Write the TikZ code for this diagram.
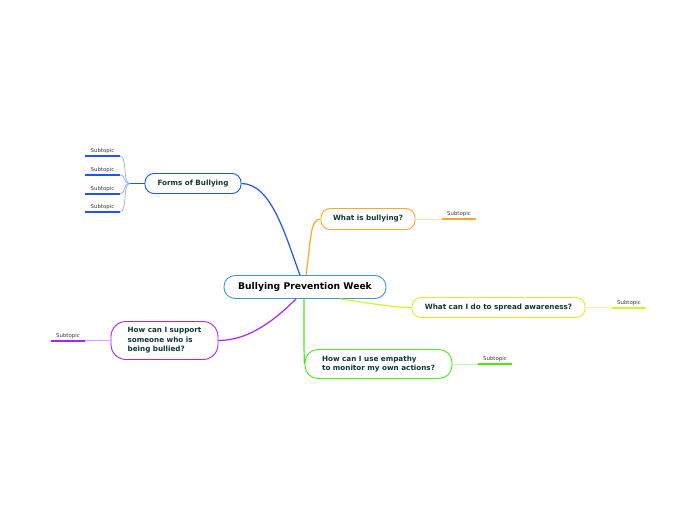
\documentclass[tikz,border=0pt]{standalone}
\usepackage{fontspec}
\setmainfont{DejaVu Sans}
\usepackage{xcolor}
\usepackage{tikz}
\usetikzlibrary{calc}
\definecolor{mainblue}{RGB}{60, 150, 215}
\definecolor{formsblue}{RGB}{30, 85, 245}
\definecolor{whatorange}{RGB}{255, 165, 40}
\definecolor{spreadlime}{RGB}{210, 245, 40}
\definecolor{empathygreen}{RGB}{70, 235, 20}
\definecolor{supportpurple}{RGB}{170, 35, 255}
\definecolor{topictext}{RGB}{15, 55, 50}
\definecolor{subgray}{RGB}{60, 60, 60}

\begin{document}
\begin{tikzpicture}[x=1pt, y=-1pt,
    topic/.style={draw, line width=0.9pt, rounded corners=9pt, fill=white, inner sep=0pt,
        font=\fontsize{7.2}{9.5}\selectfont\bfseries, text=topictext, align=left},
    subtopic/.style={anchor=south, minimum width=34pt, inner xsep=0pt, inner ysep=1.8pt,
        font=\fontsize{5.4}{6}\selectfont, text=subgray},
    branch/.style={line width=1.2pt},
    twig/.style={line width=0.6pt},
    underline/.style={line width=2pt}]
    \useasboundingbox (0,0) rectangle (697,520);

    % topics
    \node[topic, draw=mainblue, minimum width=162pt, minimum height=23pt, rounded corners=11pt,
        font=\fontsize{9.2}{11}\selectfont\bfseries, text=black] (main) at (305,287) {Bullying Prevention Week};
    \node[topic, draw=formsblue, minimum width=96pt, minimum height=20pt] (forms) at (193,183.5) {Forms of Bullying};
    \node[topic, draw=whatorange, minimum width=94pt, minimum height=21pt] (what) at (368,219) {What is bullying?};
    \node[topic, draw=spreadlime, minimum width=173pt, minimum height=20pt] (spread) at (498.5,307.5) {What can I do to spread awareness?};
    \node[topic, draw=empathygreen, minimum width=147pt, minimum height=29pt, rounded corners=13pt] (empathy) at (378.5,364) {How can I use empathy\\to monitor my own actions?};
    \node[topic, draw=supportpurple, minimum width=107pt, minimum height=38pt, rounded corners=15pt] (support) at (164.5,340.5) {How can I support\\someone who is\\being bullied?};

    % main branches
    \draw[branch, formsblue] ($(main.north)+(-5,0)$) .. controls (286,238) and (272,183.5) .. (forms.east);
    \draw[branch, whatorange] ($(main.north)+(1,0)$) .. controls (311,240) and (310,219) .. (what.west);
    \draw[branch, spreadlime] ($(main.south)+(35,0)$) .. controls (375,304) and (395,307.5) .. (spread.west);
    \draw[branch, empathygreen] ($(main.south)+(-1,0)$) .. controls (304,340) and (304,364) .. (empathy.west);
    \draw[branch, supportpurple] ($(main.south)+(-9,0)$) .. controls (270,325) and (245,340.5) .. (support.east);

    % subtopics of Forms of Bullying
    \coordinate (formsjoin) at (130,183.5);
    \draw[branch, formsblue] (forms.west) -- (formsjoin);
    \node[subtopic] (forms1) at (102.5,156) {Subtopic};
    \node[subtopic] (forms2) at (102.5,175) {Subtopic};
    \node[subtopic] (forms3) at (102.5,193.5) {Subtopic};
    \node[subtopic] (forms4) at (102.5,212) {Subtopic};
    \draw[twig, formsblue!55] (formsjoin) .. controls (122,183.5) and (128,156) .. (forms1.south east);
    \draw[twig, formsblue!55] (formsjoin) .. controls (122,183.5) and (127,175) .. (forms2.south east);
    \draw[twig, formsblue!55] (formsjoin) .. controls (122,183.5) and (127,193.5) .. (forms3.south east);
    \draw[twig, formsblue!55] (formsjoin) .. controls (122,183.5) and (128,212) .. (forms4.south east);
    \draw[underline, formsblue] (forms1.south west) -- (forms1.south east);
    \draw[underline, formsblue] (forms2.south west) -- (forms2.south east);
    \draw[underline, formsblue] (forms3.south west) -- (forms3.south east);
    \draw[underline, formsblue] (forms4.south west) -- (forms4.south east);

    % other subtopics
    \node[subtopic] (whatsub) at (459,219) {Subtopic};
    \draw[twig, whatorange!35] (what.east) -- (whatsub.south west);
    \draw[underline, whatorange] (whatsub.south west) -- (whatsub.south east);

    \node[subtopic] (spreadsub) at (629,307.5) {Subtopic};
    \draw[twig, spreadlime!45] (spread.east) -- (spreadsub.south west);
    \draw[underline, spreadlime] (spreadsub.south west) -- (spreadsub.south east);

    \node[subtopic] (empathysub) at (495,364) {Subtopic};
    \draw[twig, empathygreen!35] (empathy.east) -- (empathysub.south west);
    \draw[underline, empathygreen] (empathysub.south west) -- (empathysub.south east);

    \node[subtopic] (supportsub) at (68,340.5) {Subtopic};
    \draw[twig, supportpurple!45] (support.west) -- (supportsub.south east);
    \draw[underline, supportpurple] (supportsub.south west) -- (supportsub.south east);
\end{tikzpicture}
\end{document}
